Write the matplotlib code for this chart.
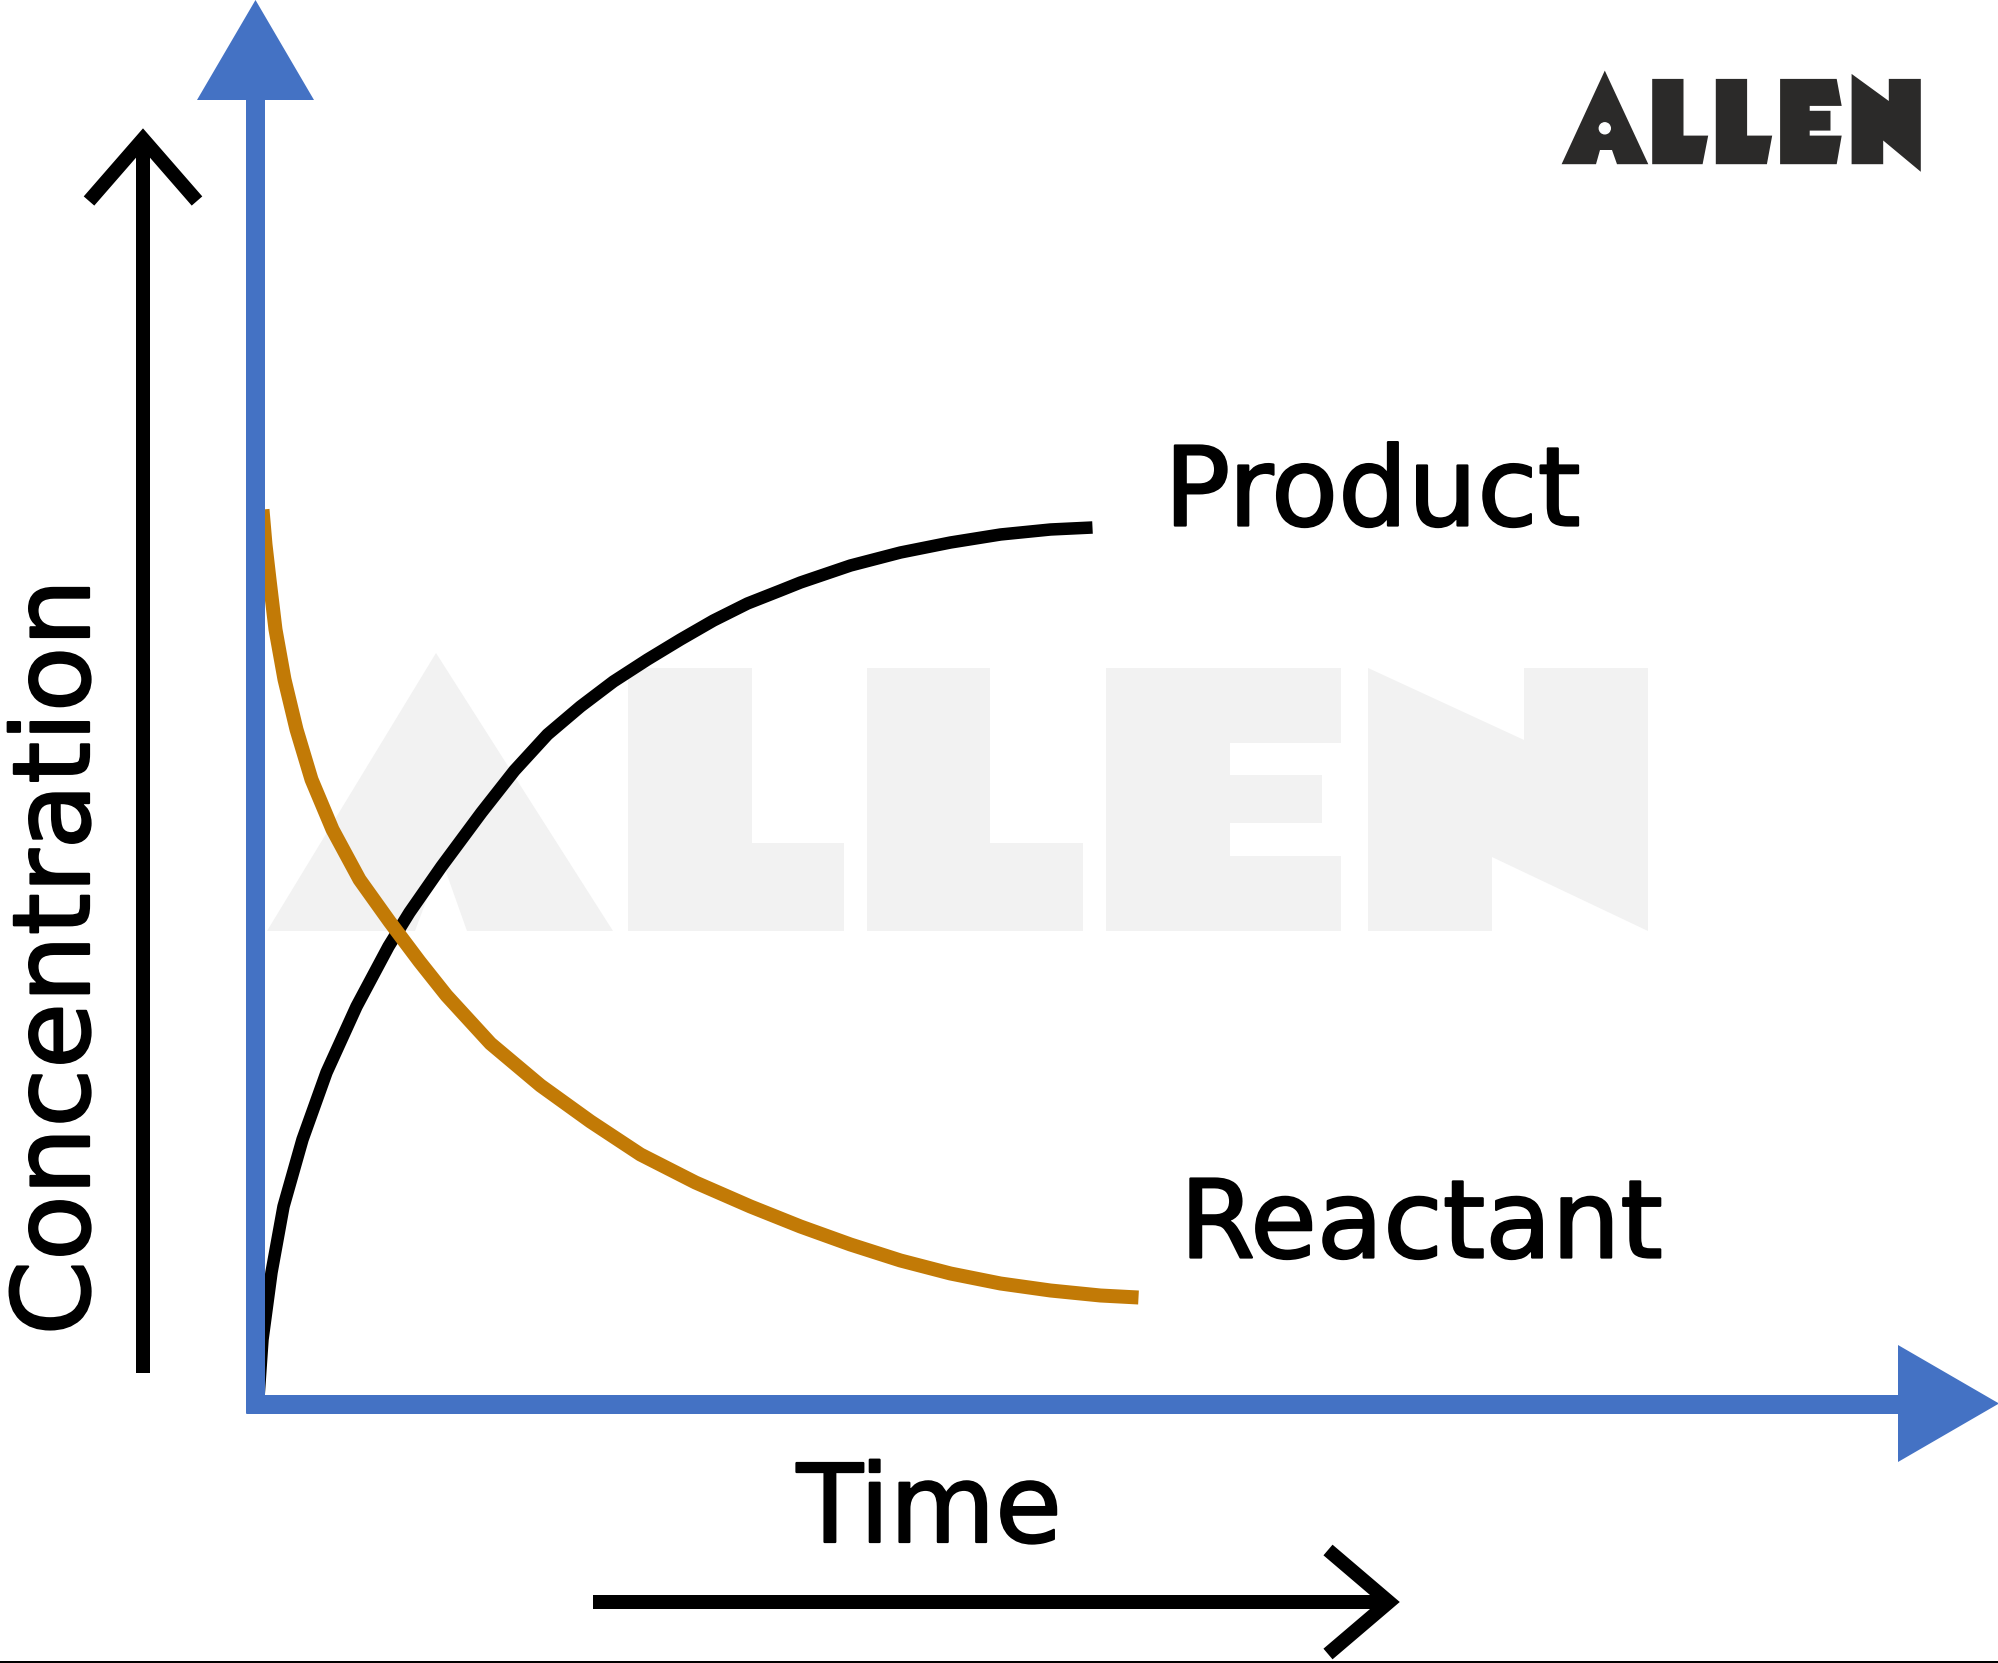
import matplotlib
matplotlib.use("Agg")
import matplotlib.pyplot as plt
import matplotlib.patheffects as pe
from matplotlib.patches import Polygon

# concentration vs time (arbitrary units)
product_time = [0.03, 0.07, 0.16, 0.28, 0.47, 0.71, 1.01, 1.33, 1.54, 1.86, 2.26, 2.59, 2.92,
                3.25, 3.58, 3.92, 4.25, 4.58, 4.92, 5.25, 5.45, 5.95, 6.45, 6.95, 7.45, 7.95, 8.37]
product_conc = [0.06, 0.64, 1.31, 1.97, 2.64, 3.31, 3.97, 4.57, 4.91, 5.37, 5.91, 6.33, 6.69,
                6.97, 7.22, 7.44, 7.64, 7.83, 8.00, 8.13, 8.21, 8.38, 8.51, 8.61, 8.69, 8.74, 8.76]

reactant_time = [0.07, 0.10, 0.14, 0.20, 0.29, 0.41, 0.56, 0.77, 1.04, 1.34, 1.64, 1.91, 2.35,
                 2.85, 3.35, 3.85, 4.40, 4.95, 5.45, 5.95, 6.45, 6.95, 7.45, 7.95, 8.45, 8.83]
reactant_conc = [8.94, 8.59, 8.24, 7.74, 7.24, 6.74, 6.24, 5.74, 5.24, 4.82, 4.42, 4.08, 3.60,
                 3.18, 2.82, 2.49, 2.21, 1.97, 1.77, 1.59, 1.43, 1.30, 1.20, 1.13, 1.08, 1.06]

curve_labels = ["Product", "Reactant"]
x_label = "Time"
y_label = "Concentration"

W, H = 1999, 1663
BLUE = "#4472c4"
ORANGE = "#c27a06"
PT = 0.72  # points per pixel at dpi 100
bold = [pe.withStroke(linewidth=1.6, foreground="black")]

fig = plt.figure(figsize=(W / 100, H / 100), dpi=100)
fig.patch.set_facecolor("white")

# pixel layer for the decoration (watermark, logo, arrows, labels)
deco = fig.add_axes([0, 0, 1, 1], zorder=0)
deco.set_xlim(0, W)
deco.set_ylim(H, 0)
deco.axis("off")
px = deco.transData

# data axes, origin on the corner of the blue axes, 100 px per unit
ox, oy = 255.5, 1403.5
ax = fig.add_axes([ox / W, (H - oy) / H, 1000 / W, 1000 / H], zorder=1)
ax.set_xlim(0, 10)
ax.set_ylim(0, 10)
ax.axis("off")
ax.patch.set_alpha(0)


def letters(axis, shapes, color):
    for pts in shapes:
        axis.add_patch(Polygon(pts, closed=True, facecolor=color, edgecolor="none", zorder=1))


######## watermark
watermark = [
    [(267, 931), (436, 653), (613, 931), (467, 931), (445, 869), (438, 869), (415, 931)],
    [(628, 668), (752, 668), (752, 843), (844, 843), (844, 931), (628, 931)],
    [(867, 668), (990, 668), (990, 843), (1083, 843), (1083, 931), (867, 931)],
    [(1106, 668), (1341, 668), (1341, 743), (1230, 743), (1230, 775), (1322, 775), (1322, 823),
     (1230, 823), (1230, 856), (1341, 856), (1341, 931), (1106, 931)],
    [(1368, 668), (1524, 740), (1524, 668), (1648, 668), (1648, 931), (1492, 857), (1492, 931), (1368, 931)],
]
letters(deco, watermark, "#f2f2f2")

######## logo top right
logo = [
    [(1561.6, 164.2), (1604.8, 70.6), (1648.3, 164.2), (1617, 164.2), (1612, 150), (1600, 150), (1596, 164.2)],
    [(1652.2, 78.9), (1683.5, 78.9), (1683.5, 135.6), (1708.2, 135.6), (1702.6, 164.2), (1652.2, 164.2)],
    [(1715.8, 78.9), (1747.1, 78.9), (1747.1, 135.6), (1772.2, 135.6), (1766.9, 164.2), (1715.8, 164.2)],
    [(1780.1, 78.9), (1836.7, 78.9), (1841.7, 105.9), (1809.7, 105.9), (1809.7, 110.8), (1830.5, 110.8),
     (1830.5, 130.6), (1809.7, 130.6), (1809.7, 135.6), (1841.7, 135.6), (1836.7, 164.2), (1780.1, 164.2)],
    [(1851.6, 73.9), (1888.8, 101), (1888.8, 78.9), (1920.8, 78.9), (1920.8, 171.8), (1883.2, 140.5),
     (1883.2, 164.2), (1851.6, 164.2)],
]
letters(deco, logo, "#2b2a29")
deco.add_patch(plt.Circle((1604.8, 128.3), 5.5, color="white", zorder=2))

######## curves
ax.plot(product_time, product_conc, color="black", lw=12.5 * PT,
        solid_capstyle="butt", solid_joinstyle="round", clip_on=False, zorder=2)
ax.plot(reactant_time, reactant_conc, color=ORANGE, lw=14 * PT,
        solid_capstyle="butt", solid_joinstyle="round", clip_on=False, zorder=3)

ax.annotate(curve_labels[0], xy=(product_time[-1], product_conc[-1]), xytext=(280, 2),
            textcoords="offset pixels", ha="center", va="baseline", fontsize=79,
            color="black", path_effects=bold)
ax.annotate(curve_labels[1], xy=(reactant_time[-1], reactant_conc[-1]), xytext=(283, 40),
            textcoords="offset pixels", ha="center", va="baseline", fontsize=78,
            color="black", path_effects=bold)

######## blue axes with arrow heads
ax.plot([ox, ox], [99, 1413], transform=px, color=BLUE, lw=19 * PT,
        solid_capstyle="butt", clip_on=False, zorder=5)
ax.plot([246, 1899], [oy, oy], transform=px, color=BLUE, lw=19 * PT,
        solid_capstyle="butt", clip_on=False, zorder=5)
ax.add_patch(Polygon([(197, 100), (ox, 0), (314, 100)], transform=px, facecolor=BLUE,
                     edgecolor="none", clip_on=False, zorder=5))
ax.add_patch(Polygon([(1898, 1345), (1999, oy), (1898, 1462)], transform=px, facecolor=BLUE,
                     edgecolor="none", clip_on=False, zorder=5))

######## black direction arrows
arrow_kw = dict(color="black", lw=14 * PT, solid_capstyle="butt", solid_joinstyle="miter")
deco.plot([143, 143], [139, 1373], **arrow_kw)
deco.plot([89, 143, 197], [201, 139, 201], **arrow_kw)
deco.plot([593, 1389], [1602, 1602], **arrow_kw)
deco.plot([1328, 1389, 1328], [1550, 1602, 1654], **arrow_kw)

######## axis labels
deco.text(929.5, 1542, x_label, ha="center", va="baseline", fontsize=78, color="black",
          path_effects=bold)
deco.text(89, 957, y_label, rotation=90, rotation_mode="anchor",
          ha="center", va="baseline", fontsize=77, color="black", path_effects=bold)

# thin border along the bottom edge
deco.plot([0, W], [1662, 1662], color="black", lw=2 * PT)

fig.savefig("out.png", dpi=100, facecolor="white")
